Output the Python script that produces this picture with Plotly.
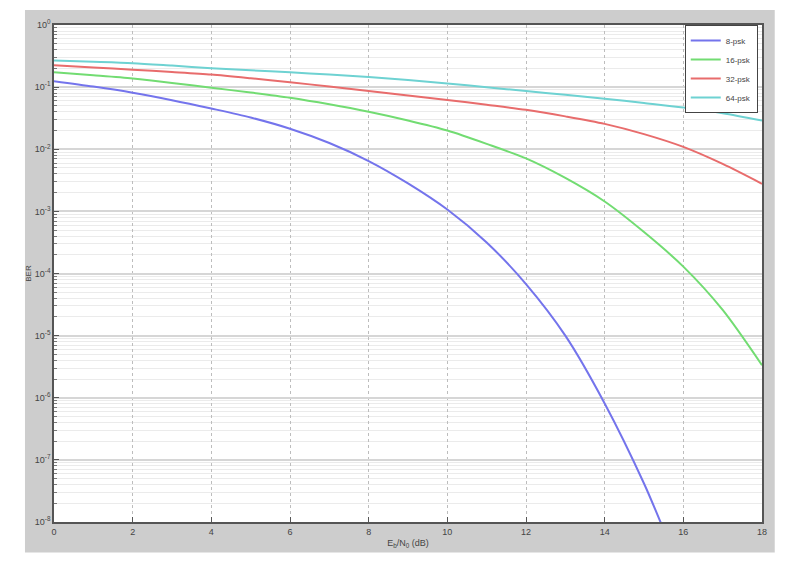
import plotly.graph_objects as go

# Eb/N0 in dB and BER
snr = [0, 1, 2, 3, 4, 5, 6, 7, 8, 9, 10, 11, 12, 13, 14, 15, 16, 17, 18]
snr_8psk = [0, 1, 2, 3, 4, 5, 6, 7, 8, 9, 10, 11, 12, 13, 14, 15, 15.5]

ber_8psk = [0.1245, 0.102, 0.0813, 0.0617, 0.0452, 0.0324, 0.0214, 0.0126, 0.00646,
            0.00282, 0.00107, 3.16e-4, 6.76e-5, 1.0e-5, 8.1e-7, 4.17e-8, 7.5e-9]
ber_16psk = [0.173, 0.155, 0.1375, 0.117, 0.0975, 0.082, 0.0676, 0.053, 0.0401,
             0.029, 0.0200, 0.0122, 0.00712, 0.00345, 0.00144, 4.64e-4, 1.29e-4,
             2.59e-5, 3.34e-6]
ber_32psk = [0.224, 0.207, 0.191, 0.175, 0.159, 0.139, 0.120, 0.102, 0.0864,
             0.0735, 0.0622, 0.052, 0.0431, 0.0338, 0.0256, 0.0175, 0.0109,
             0.0058, 0.00278]
ber_64psk = [0.268, 0.256, 0.243, 0.222, 0.202, 0.187, 0.173, 0.159, 0.146,
             0.130, 0.1145, 0.0995, 0.0864, 0.0755, 0.0652, 0.0555, 0.0469,
             0.0380, 0.0289]

names = ["8-psk", "16-psk", "32-psk", "64-psk"]
colors = ["#7474ec", "#72dc72", "#e86c6c", "#6ed2d2"]

decades = [1, 1e-1, 1e-2, 1e-3, 1e-4, 1e-5, 1e-6, 1e-7, 1e-8]
decade_labels = ["10<sup>0</sup>", "10<sup>-1</sup>", "10<sup>-2</sup>", "10<sup>-3</sup>",
                 "10<sup>-4</sup>", "10<sup>-5</sup>", "10<sup>-6</sup>", "10<sup>-7</sup>",
                 "10<sup>-8</sup>"]

fig = go.Figure()
series = [(snr_8psk, ber_8psk), (snr, ber_16psk), (snr, ber_32psk), (snr, ber_64psk)]
for (xs, ys), name, col in zip(series, names, colors):
    fig.add_trace(go.Scatter(x=xs, y=ys, mode="lines", name=name,
                             line=dict(color=col, width=2, shape="spline", smoothing=0.8)))

# matlab-ish grey figure background + white axes area
fig.add_shape(type="rect", xref="paper", yref="paper", x0=-0.041, x1=1.018,
              y0=-0.0615, y1=1.03, fillcolor="#cdcdcd", line=dict(width=0), layer="below")
fig.add_shape(type="rect", xref="paper", yref="paper", x0=0, x1=1, y0=0, y1=1,
              fillcolor="white", line=dict(width=0), layer="below")

fig.update_xaxes(range=[0, 18], dtick=2, ticks="inside", ticklen=5, tickcolor="#555",
                 showline=True, linecolor="#555", linewidth=1.5, mirror=True,
                 showgrid=True, gridcolor="#bdbdbd", griddash="dot", zeroline=False,
                 tickfont=dict(size=9, color="#444"),
                 title=dict(text="E<sub>b</sub>/N<sub>0</sub> (dB)", font=dict(size=9, color="#444"),
                            standoff=4))
fig.update_yaxes(type="log", range=[-8, 0], tickvals=decades, ticktext=decade_labels,
                 ticks="inside", ticklen=5, tickcolor="#555",
                 showline=True, linecolor="#555", linewidth=1.5, mirror=True,
                 showgrid=True, gridcolor="#d6d6d6", gridwidth=2,
                 minor=dict(dtick="D1", showgrid=True, gridcolor="#ebebeb", gridwidth=1,
                            ticks="inside", ticklen=3, tickcolor="#777"),
                 tickfont=dict(size=9, color="#444"),
                 title=dict(text="BER", font=dict(size=8, color="#444"), standoff=2))

fig.update_layout(
    width=782, height=553,
    margin=dict(l=46, r=28, t=10, b=39),
    paper_bgcolor="white", plot_bgcolor="white",
    font=dict(family="Liberation Sans, Arial, sans-serif"),
    legend=dict(x=0.994, y=1.0, xanchor="right", yanchor="top",
                bgcolor="white", bordercolor="#444", borderwidth=1,
                font=dict(size=8, color="#444"), tracegroupgap=0, itemwidth=30),
)

fig.write_html("out.html")
